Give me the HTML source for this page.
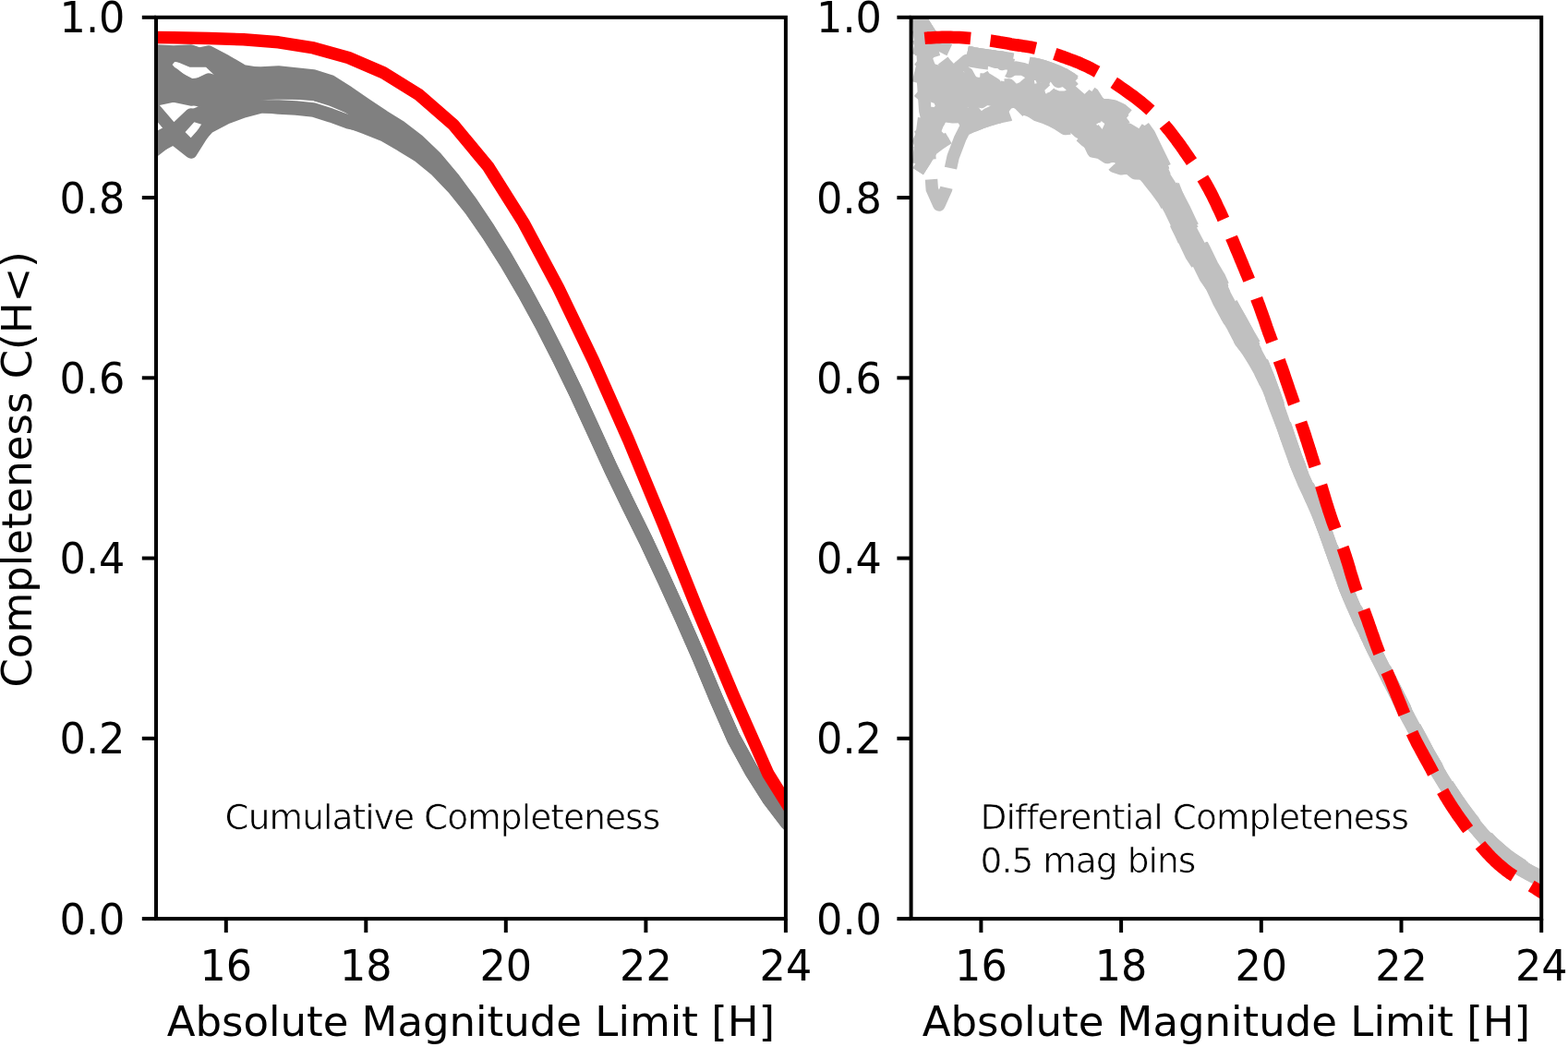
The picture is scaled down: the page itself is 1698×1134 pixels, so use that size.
<!DOCTYPE html>
<html><head><meta charset="utf-8"><title>Completeness</title>
<style>html,body{margin:0;padding:0;background:#fff;overflow:hidden}svg{display:block}</style>
</head><body>
<svg width="1698" height="1134" viewBox="0 0 1698 1134">
<defs>
<clipPath id="cl"><rect x="169.0" y="18.8" width="681.9" height="976.3"/></clipPath>
<clipPath id="cr"><rect x="986.6" y="18.8" width="682.6" height="976.3"/></clipPath>
</defs>
<rect width="1698" height="1134" fill="#fff"/>
<g clip-path="url(#cl)" fill="none" stroke-linejoin="round" stroke-linecap="square" stroke-width="13.5">
<g stroke="#808080">
<polyline points="150.1,54.0 169.0,55.0 187.9,56.0 206.9,55.0 225.8,62.0 244.8,79.0 263.7,79.0 282.6,79.0 301.6,78.0 320.5,80.0 339.5,82.0 358.4,88.0 377.4,100.0 396.3,113.0 415.2,125.7 434.2,137.5 453.1,152.1 472.1,170.4 491.0,192.8 510.0,218.5 528.9,246.8 547.9,277.6 566.8,310.5 585.8,345.6 604.7,382.7 623.7,422.1 642.6,463.4 661.6,505.0 680.5,544.4 699.5,582.9 718.4,623.4 737.4,665.2 756.3,708.2 775.3,753.7 794.2,796.7 813.2,831.3 832.1,860.5 851.1,884.4 870.0,901.7"/>
<polyline points="150.1,64.0 169.0,62.0 187.9,60.0 206.9,60.0 225.8,56.0 244.8,66.0 263.7,77.0 282.6,80.0 301.6,80.0 320.5,82.0 339.5,84.0 358.4,90.0 377.4,102.0 396.3,115.0 415.2,127.3 434.2,139.1 453.1,153.4 472.1,171.5 491.0,193.7 510.0,219.2 528.9,247.5 547.9,278.2 566.8,311.1 585.8,346.1 604.7,383.2 623.7,422.5 642.6,463.8 661.6,505.5 680.5,544.8 699.5,583.3 718.4,623.8 737.4,665.6 756.3,708.6 775.3,754.1 794.2,797.1 813.2,831.7 832.1,860.9 851.1,885.0 870.0,902.4"/>
<polyline points="150.1,52.0 169.0,56.0 187.9,60.0 206.9,62.0 225.8,64.0 244.8,70.0 263.7,80.0 282.6,84.0 301.6,84.0 320.5,85.0 339.5,87.0 358.4,92.0 377.4,104.0 396.3,117.0 415.2,128.9 434.2,140.6 453.1,154.7 472.1,172.6 491.0,194.6 510.0,220.0 528.9,248.2 547.9,278.8 566.8,311.6 585.8,346.6 604.7,383.7 623.7,423.0 642.6,464.3 661.6,505.9 680.5,545.2 699.5,583.7 718.4,624.2 737.4,666.0 756.3,709.0 775.3,754.5 794.2,797.5 813.2,832.1 832.1,861.4 851.1,885.5 870.0,903.0"/>
<polyline points="150.1,102.0 169.0,80.0 187.9,58.0 206.9,66.0 225.8,66.0 244.8,84.0 263.7,86.0 282.6,86.0 301.6,87.0 320.5,88.0 339.5,90.0 358.4,95.0 377.4,106.0 396.3,118.0 415.2,129.7 434.2,141.4 453.1,155.4 472.1,173.2 491.0,195.0 510.0,220.3 528.9,248.5 547.9,279.1 566.8,311.9 585.8,346.8 604.7,384.0 623.7,423.2 642.6,464.5 661.6,506.1 680.5,545.4 699.5,583.9 718.4,624.4 737.4,666.2 756.3,709.2 775.3,754.7 794.2,797.7 813.2,832.3 832.1,861.6 851.1,885.7 870.0,903.3"/>
<polyline points="150.1,38.0 169.0,60.0 187.9,82.0 206.9,92.0 225.8,90.0 244.8,86.0 263.7,90.0 282.6,90.0 301.6,90.0 320.5,91.0 339.5,93.0 358.4,98.0 377.4,108.0 396.3,120.0 415.2,131.3 434.2,142.9 453.1,156.7 472.1,174.2 491.0,195.9 510.0,221.1 528.9,249.1 547.9,279.7 566.8,312.4 585.8,347.4 604.7,384.4 623.7,423.7 642.6,465.0 661.6,506.6 680.5,545.8 699.5,584.3 718.4,624.8 737.4,666.6 756.3,709.5 775.3,755.0 794.2,798.0 813.2,832.6 832.1,862.0 851.1,886.3 870.0,903.9"/>
<polyline points="150.1,84.0 169.0,82.0 187.9,80.0 206.9,95.0 225.8,86.0 244.8,92.0 263.7,92.0 282.6,92.0 301.6,92.0 320.5,93.0 339.5,95.0 358.4,100.0 377.4,110.0 396.3,121.0 415.2,132.1 434.2,143.7 453.1,157.3 472.1,174.8 491.0,196.4 510.0,221.4 528.9,249.5 547.9,280.0 566.8,312.7 585.8,347.6 604.7,384.7 623.7,423.9 642.6,465.2 661.6,506.8 680.5,546.0 699.5,584.5 718.4,625.0 737.4,666.8 756.3,709.7 775.3,755.2 794.2,798.2 813.2,832.8 832.1,862.2 851.1,886.5 870.0,904.2"/>
<polyline points="150.1,86.0 169.0,88.0 187.9,90.0 206.9,96.0 225.8,90.0 244.8,95.0 263.7,96.0 282.6,95.0 301.6,94.0 320.5,95.0 339.5,97.0 358.4,102.0 377.4,111.0 396.3,122.0 415.2,132.9 434.2,144.4 453.1,158.0 472.1,175.3 491.0,196.8 510.0,221.8 528.9,249.8 547.9,280.3 566.8,313.0 585.8,347.9 604.7,384.9 623.7,424.2 642.6,465.4 661.6,507.0 680.5,546.2 699.5,584.7 718.4,625.2 737.4,667.0 756.3,709.9 775.3,755.4 794.2,798.4 813.2,833.0 832.1,862.5 851.1,886.8 870.0,904.5"/>
<polyline points="150.1,80.0 169.0,84.0 187.9,88.0 206.9,96.0 225.8,92.0 244.8,90.0 263.7,94.0 282.6,96.0 301.6,96.0 320.5,97.0 339.5,99.0 358.4,104.0 377.4,112.0 396.3,123.0 415.2,133.7 434.2,145.2 453.1,158.7 472.1,175.9 491.0,197.2 510.0,222.2 528.9,250.1 547.9,280.6 566.8,313.2 585.8,348.1 604.7,385.2 623.7,424.4 642.6,465.6 661.6,507.2 680.5,546.4 699.5,584.9 718.4,625.4 737.4,667.2 756.3,710.1 775.3,755.6 794.2,798.6 813.2,833.2 832.1,862.7 851.1,887.1 870.0,904.8"/>
<polyline points="150.1,107.0 169.0,96.0 187.9,85.0 206.9,92.0 225.8,100.0 244.8,98.0 263.7,97.0 282.6,97.0 301.6,97.0 320.5,98.0 339.5,100.0 358.4,105.0 377.4,113.0 396.3,124.0 415.2,134.5 434.2,145.9 453.1,159.3 472.1,176.4 491.0,197.7 510.0,222.6 528.9,250.5 547.9,280.9 566.8,313.5 585.8,348.4 604.7,385.4 623.7,424.6 642.6,465.9 661.6,507.4 680.5,546.7 699.5,585.1 718.4,625.6 737.4,667.4 756.3,710.3 775.3,755.8 794.2,798.8 813.2,833.4 832.1,862.9 851.1,887.3 870.0,905.1"/>
<polyline points="150.1,96.0 169.0,100.0 187.9,104.0 206.9,98.0 225.8,94.0 244.8,97.0 263.7,99.0 282.6,99.0 301.6,98.0 320.5,99.0 339.5,101.0 358.4,106.0 377.4,114.0 396.3,125.0 415.2,135.3 434.2,146.7 453.1,160.0 472.1,177.0 491.0,198.1 510.0,222.9 528.9,250.8 547.9,281.2 566.8,313.8 585.8,348.6 604.7,385.7 623.7,424.9 642.6,466.1 661.6,507.6 680.5,546.9 699.5,585.3 718.4,625.8 737.4,667.5 756.3,710.5 775.3,756.0 794.2,798.9 813.2,833.6 832.1,863.1 851.1,887.6 870.0,905.4"/>
<polyline points="150.1,84.0 169.0,92.0 187.9,100.0 206.9,106.0 225.8,104.0 244.8,100.0 263.7,100.0 282.6,100.0 301.6,99.0 320.5,100.0 339.5,102.0 358.4,107.0 377.4,115.0 396.3,126.0 415.2,136.1 434.2,147.5 453.1,160.6 472.1,177.5 491.0,198.6 510.0,223.3 528.9,251.1 547.9,281.5 566.8,314.1 585.8,348.9 604.7,385.9 623.7,425.1 642.6,466.3 661.6,507.9 680.5,547.1 699.5,585.5 718.4,626.0 737.4,667.7 756.3,710.7 775.3,756.1 794.2,799.1 813.2,833.8 832.1,863.3 851.1,887.8 870.0,905.7"/>
<polyline points="150.1,112.0 169.0,108.0 187.9,104.0 206.9,108.0 225.8,106.0 244.8,103.0 263.7,102.0 282.6,101.0 301.6,100.0 320.5,101.0 339.5,102.0 358.4,108.0 377.4,116.0 396.3,127.0 415.2,136.9 434.2,148.2 453.1,161.3 472.1,178.0 491.0,199.0 510.0,223.7 528.9,251.5 547.9,281.8 566.8,314.3 585.8,349.1 604.7,386.2 623.7,425.3 642.6,466.5 661.6,508.1 680.5,547.3 699.5,585.7 718.4,626.2 737.4,667.9 756.3,710.8 775.3,756.3 794.2,799.3 813.2,834.0 832.1,863.6 851.1,888.1 870.0,906.0"/>
<polyline points="150.1,177.0 169.0,162.0 187.9,147.0 206.9,126.0 225.8,118.0 244.8,110.0 263.7,104.0 282.6,101.0 301.6,101.0 320.5,101.0 339.5,102.0 358.4,107.0 377.4,116.0 396.3,128.0 415.2,137.7 434.2,149.0 453.1,161.9 472.1,178.6 491.0,199.5 510.0,224.0 528.9,251.8 547.9,282.1 566.8,314.6 585.8,349.4 604.7,386.4 623.7,425.6 642.6,466.8 661.6,508.3 680.5,547.5 699.5,585.9 718.4,626.4 737.4,668.1 756.3,711.0 775.3,756.5 794.2,799.5 813.2,834.2 832.1,863.8 851.1,888.4 870.0,906.4"/>
<polyline points="150.1,110.0 169.0,105.0 187.9,100.0 206.9,106.0 225.8,112.0 244.8,108.0 263.7,106.0 282.6,102.0 301.6,100.0 320.5,100.0 339.5,101.0 358.4,106.0 377.4,115.0 396.3,129.0 415.2,138.5 434.2,149.8 453.1,162.6 472.1,179.1 491.0,199.9 510.0,224.4 528.9,252.1 547.9,282.4 566.8,314.9 585.8,349.7 604.7,386.6 623.7,425.8 642.6,467.0 661.6,508.5 680.5,547.7 699.5,586.1 718.4,626.5 737.4,668.3 756.3,711.2 775.3,756.7 794.2,799.7 813.2,834.4 832.1,864.0 851.1,888.6 870.0,906.7"/>
<polyline points="150.1,160.0 169.0,150.0 187.9,140.0 206.9,159.0 225.8,138.0 244.8,128.0 263.7,121.0 282.6,116.0 301.6,116.0 320.5,117.0 339.5,119.0 358.4,125.0 377.4,132.0 396.3,139.0 415.2,146.5 434.2,157.4 453.1,169.1 472.1,184.6 491.0,204.3 510.0,228.1 528.9,255.4 547.9,285.3 566.8,317.6 585.8,352.2 604.7,389.1 623.7,428.1 642.6,469.2 661.6,510.7 680.5,549.8 699.5,588.1 718.4,628.5 737.4,670.2 756.3,713.1 775.3,758.6 794.2,801.5 813.2,836.3 832.1,866.2 851.1,891.3 870.0,909.7"/>
<polyline points="150.1,98.0 169.0,120.0 187.9,142.0 206.9,124.0 225.8,130.0 244.8,122.0 263.7,118.0 282.6,115.0 301.6,117.0 320.5,118.0 339.5,120.0 358.4,126.0 377.4,133.0 396.3,137.0 415.2,144.9 434.2,155.9 453.1,167.8 472.1,183.5 491.0,203.5 510.0,227.4 528.9,254.8 547.9,284.7 566.8,317.1 585.8,351.7 604.7,388.6 623.7,427.7 642.6,468.8 661.6,510.2 680.5,549.4 699.5,587.7 718.4,628.1 737.4,669.8 756.3,712.7 775.3,758.2 794.2,801.2 813.2,835.9 832.1,865.8 851.1,890.7 870.0,909.1"/>
<polyline points="150.1,170.0 169.0,160.0 187.9,150.0 206.9,165.0 225.8,135.0 244.8,126.0 263.7,119.0 282.6,115.0 301.6,115.0 320.5,116.0 339.5,118.0 358.4,124.0 377.4,131.0 396.3,135.0 415.2,143.3 434.2,154.4 453.1,166.5 472.1,182.4 491.0,202.6 510.0,226.6 528.9,254.1 547.9,284.1 566.8,316.5 585.8,351.2 604.7,388.1 623.7,427.2 642.6,468.3 661.6,509.8 680.5,548.9 699.5,587.3 718.4,627.7 737.4,669.5 756.3,712.3 775.3,757.8 794.2,800.8 813.2,835.5 832.1,865.3 851.1,890.2 870.0,908.5"/>
</g>
<polyline stroke="#f00" points="150.1,40.3 187.9,40.8 225.8,41.5 263.7,42.7 301.6,45.8 339.5,51.9 377.4,62.5 415.2,78.8 453.1,102.2 491.0,135.1 528.9,180.8 566.8,241.0 604.7,311.9 642.5,390.5 680.4,476.0 718.3,567.7 756.2,662.4 794.1,752.9 832.0,838.4 869.8,899.0"/>
</g>
<g clip-path="url(#cr)" fill="none" stroke-linejoin="round" stroke-linecap="butt" stroke-width="13.5" stroke-dasharray="49.95 21.6">
<g stroke="#c0c0c0">
<polyline points="994.2,-20.0 1001.8,100.0 1009.3,205.0 1016.9,222.0 1024.5,205.0 1032.1,170.0 1039.7,150.0 1047.3,135.0 1054.9,133.4 1062.4,128.8 1070.0,123.3 1077.6,119.8 1085.2,108.7 1092.8,102.2 1100.4,98.7 1108.0,97.3 1115.5,86.7 1123.1,84.1 1130.7,81.0 1138.3,77.6 1145.9,88.5 1153.5,86.2 1161.0,94.4 1168.6,101.0 1176.2,107.4 1183.8,111.8 1191.4,114.4 1199.0,124.8 1206.5,126.3 1214.1,126.7 1221.7,132.8 1229.3,135.7 1236.9,142.0 1244.5,156.5 1252.1,166.1 1259.6,184.0 1267.2,199.0 1274.8,215.0 1282.4,230.0 1290.0,249.9 1297.6,262.6 1305.1,278.0 1312.7,290.5 1320.3,304.3 1327.9,320.1 1335.5,334.8 1343.1,349.2 1350.7,362.0 1358.2,375.8 1365.8,390.5 1373.4,409.4 1381.0,431.8 1388.6,452.6 1396.2,474.6 1403.7,496.4 1411.3,515.8 1418.9,531.6 1426.5,549.8 1434.1,569.9 1441.7,591.1 1449.3,613.1 1456.8,632.7 1464.4,651.0 1472.0,667.8 1479.6,684.3 1487.2,699.5 1494.8,714.8 1502.3,729.7 1509.9,744.7 1517.5,760.5 1525.1,774.6 1532.7,789.3 1540.3,803.4 1547.8,817.0 1555.4,830.2 1563.0,843.3 1570.6,855.2 1578.2,866.7 1585.8,877.5 1593.4,887.8 1600.9,896.9 1608.5,905.2 1616.1,912.6 1623.7,919.4 1631.3,926.5 1638.9,932.2 1646.4,937.0 1654.0,941.7 1661.6,945.7 1669.2,949.1 1676.8,951.9 1684.4,953.9 1692.0,956.4"/>
<polyline points="994.2,10.0 1001.8,120.0 1009.3,150.0 1016.9,130.0 1024.5,115.0 1032.1,110.0 1039.7,100.0 1047.3,98.0 1054.9,99.3 1062.4,98.1 1070.0,97.2 1077.6,96.9 1085.2,98.5 1092.8,98.3 1100.4,98.9 1108.0,100.1 1115.5,101.6 1123.1,105.4 1130.7,109.7 1138.3,110.7 1145.9,114.0 1153.5,117.8 1161.0,123.0 1168.6,126.0 1176.2,134.1 1183.8,138.9 1191.4,147.4 1199.0,147.1 1206.5,149.9 1214.1,152.1 1221.7,151.2 1229.3,152.9 1236.9,161.0 1244.5,169.8 1252.1,181.3 1259.6,196.3 1267.2,214.3 1274.8,225.8 1282.4,241.3 1290.0,254.7 1297.6,270.8 1305.1,282.1 1312.7,296.0 1320.3,313.6 1327.9,326.0 1335.5,343.1 1343.1,356.9 1350.7,368.1 1358.2,381.6 1365.8,397.6 1373.4,413.6 1381.0,433.7 1388.6,455.1 1396.2,477.8 1403.7,499.3 1411.3,517.8 1418.9,533.8 1426.5,551.4 1434.1,571.6 1441.7,593.3 1449.3,614.4 1456.8,634.3 1464.4,652.6 1472.0,669.5 1479.6,685.7 1487.2,701.3 1494.8,716.4 1502.3,731.8 1509.9,747.2 1517.5,761.8 1525.1,776.4 1532.7,790.3 1540.3,805.1 1547.8,818.1 1555.4,831.6 1563.0,845.0 1570.6,857.1 1578.2,868.3 1585.8,878.6 1593.4,888.9 1600.9,898.0 1608.5,906.9 1616.1,915.1 1623.7,921.5 1631.3,927.5 1638.9,933.1 1646.4,938.6 1654.0,943.0 1661.6,946.7 1669.2,950.4 1676.8,952.9 1684.4,956.0 1692.0,957.8"/>
<polyline points="994.2,60.0 1001.8,30.0 1009.3,45.0 1016.9,60.0 1024.5,70.0 1032.1,78.0 1039.7,84.0 1047.3,88.0 1054.9,90.4 1062.4,90.6 1070.0,92.6 1077.6,93.9 1085.2,94.5 1092.8,96.1 1100.4,99.3 1108.0,103.7 1115.5,104.0 1123.1,111.7 1130.7,115.2 1138.3,120.0 1145.9,118.5 1153.5,126.0 1161.0,129.4 1168.6,131.6 1176.2,146.3 1183.8,151.9 1191.4,155.4 1199.0,158.8 1206.5,159.4 1214.1,164.3 1221.7,166.8 1229.3,169.5 1236.9,174.2 1244.5,179.6 1252.1,192.0 1259.6,204.4 1267.2,220.9 1274.8,237.0 1282.4,248.7 1290.0,261.9 1297.6,276.3 1305.1,288.7 1312.7,302.0 1320.3,317.3 1327.9,331.1 1335.5,347.6 1343.1,359.9 1350.7,372.5 1358.2,384.9 1365.8,398.9 1373.4,416.1 1381.0,436.6 1388.6,457.8 1396.2,479.9 1403.7,500.6 1411.3,518.6 1418.9,535.8 1426.5,552.7 1434.1,573.0 1441.7,594.4 1449.3,615.1 1456.8,635.5 1464.4,653.8 1472.0,670.8 1479.6,686.8 1487.2,702.4 1494.8,717.4 1502.3,732.8 1509.9,747.8 1517.5,762.9 1525.1,777.3 1532.7,792.2 1540.3,806.3 1547.8,819.9 1555.4,833.1 1563.0,846.1 1570.6,857.6 1578.2,869.7 1585.8,880.4 1593.4,890.4 1600.9,899.6 1608.5,907.7 1616.1,915.6 1623.7,922.9 1631.3,929.2 1638.9,934.8 1646.4,939.4 1654.0,944.5 1661.6,948.6 1669.2,951.9 1676.8,954.6 1684.4,956.4 1692.0,959.1"/>
<polyline points="994.2,150.0 1001.8,170.0 1009.3,130.0 1016.9,120.0 1024.5,125.0 1032.1,118.0 1039.7,112.0 1047.3,110.0 1054.9,108.4 1062.4,120.1 1070.0,128.8 1077.6,125.4 1085.2,119.5 1092.8,109.4 1100.4,103.8 1108.0,104.8 1115.5,104.6 1123.1,105.1 1130.7,108.1 1138.3,108.4 1145.9,111.2 1153.5,121.3 1161.0,127.4 1168.6,136.5 1176.2,145.1 1183.8,150.8 1191.4,159.6 1199.0,156.6 1206.5,156.3 1214.1,161.7 1221.7,170.3 1229.3,170.8 1236.9,171.2 1244.5,181.0 1252.1,194.1 1259.6,202.5 1267.2,217.4 1274.8,236.0 1282.4,250.7 1290.0,265.9 1297.6,277.2 1305.1,293.6 1312.7,306.6 1320.3,319.4 1327.9,334.5 1335.5,345.7 1343.1,361.9 1350.7,373.2 1358.2,386.4 1365.8,400.9 1373.4,417.3 1381.0,436.3 1388.6,458.9 1396.2,480.0 1403.7,500.9 1411.3,519.3 1418.9,536.0 1426.5,552.7 1434.1,573.9 1441.7,594.9 1449.3,616.4 1456.8,636.4 1464.4,654.1 1472.0,670.6 1479.6,687.0 1487.2,702.4 1494.8,717.9 1502.3,733.2 1509.9,747.7 1517.5,763.3 1525.1,777.5 1532.7,792.5 1540.3,806.5 1547.8,820.2 1555.4,833.5 1563.0,846.1 1570.6,858.2 1578.2,869.4 1585.8,880.6 1593.4,891.2 1600.9,900.4 1608.5,908.6 1616.1,916.2 1623.7,922.8 1631.3,929.8 1638.9,935.1 1646.4,940.1 1654.0,944.6 1661.6,948.6 1669.2,951.8 1676.8,954.8 1684.4,956.9 1692.0,959.0"/>
<polyline points="994.2,90.0 1001.8,60.0 1009.3,80.0 1016.9,95.0 1024.5,90.0 1032.1,100.0 1039.7,95.0 1047.3,92.0 1054.9,94.4 1062.4,95.0 1070.0,97.2 1077.6,97.5 1085.2,98.3 1092.8,100.5 1100.4,103.3 1108.0,107.1 1115.5,109.5 1123.1,113.1 1130.7,119.7 1138.3,122.7 1145.9,126.3 1153.5,132.2 1161.0,136.2 1168.6,143.2 1176.2,147.0 1183.8,157.0 1191.4,165.4 1199.0,167.6 1206.5,169.4 1214.1,170.2 1221.7,174.1 1229.3,171.8 1236.9,178.8 1244.5,187.7 1252.1,198.0 1259.6,207.4 1267.2,222.4 1274.8,236.4 1282.4,252.2 1290.0,266.3 1297.6,277.8 1305.1,292.3 1312.7,306.9 1320.3,318.8 1327.9,334.7 1335.5,350.2 1343.1,361.1 1350.7,374.7 1358.2,386.0 1365.8,402.2 1373.4,420.0 1381.0,439.3 1388.6,459.2 1396.2,481.2 1403.7,501.6 1411.3,520.1 1418.9,537.1 1426.5,553.5 1434.1,574.2 1441.7,595.2 1449.3,616.8 1456.8,636.2 1464.4,654.2 1472.0,671.5 1479.6,687.8 1487.2,703.1 1494.8,718.5 1502.3,733.3 1509.9,747.9 1517.5,763.8 1525.1,778.5 1532.7,792.8 1540.3,806.9 1547.8,820.9 1555.4,833.7 1563.0,846.4 1570.6,858.7 1578.2,870.6 1585.8,880.6 1593.4,891.3 1600.9,899.9 1608.5,908.2 1616.1,916.7 1623.7,923.3 1631.3,929.3 1638.9,935.3 1646.4,940.8 1654.0,945.3 1661.6,948.8 1669.2,952.4 1676.8,955.4 1684.4,957.3 1692.0,959.5"/>
<polyline points="994.2,64.6 1001.8,70.4 1009.4,75.4 1016.9,77.6 1024.5,79.0 1032.1,81.5 1039.7,82.5 1047.3,84.2 1054.9,85.6 1062.4,86.0 1070.0,86.4 1077.6,91.2 1085.2,105.3 1092.8,101.1 1100.4,107.5 1108.0,105.4 1115.5,113.3 1123.1,120.9 1130.7,116.4 1138.3,117.0 1145.9,121.6 1153.5,129.5 1161.0,139.8 1168.6,146.1 1176.2,152.9 1183.8,158.5 1191.4,163.7 1199.0,170.0 1206.5,167.7 1214.1,177.5 1221.7,174.0 1229.3,180.9 1236.9,187.9 1244.5,192.5 1252.1,197.9 1259.6,212.9 1267.2,227.0 1274.8,238.7 1282.4,253.9 1290.0,269.7 1297.6,280.2 1305.1,297.2 1312.7,305.3 1320.3,321.3 1327.9,337.3 1335.5,351.7 1343.1,364.9 1350.7,377.0 1358.2,388.8 1365.8,403.9 1373.4,418.3 1381.0,439.4 1388.6,460.0 1396.2,482.0 1403.7,502.6 1411.3,520.5 1418.9,537.1 1426.5,554.9 1434.1,574.6 1441.7,595.6 1449.3,617.6 1456.8,637.5 1464.4,654.6 1472.0,672.2 1479.6,689.0 1487.2,704.0 1494.8,719.0 1502.3,734.1 1509.9,749.0 1517.5,764.1 1525.1,778.7 1532.7,793.6 1540.3,807.4 1547.8,821.1 1555.4,834.1 1563.0,847.2 1570.6,859.1 1578.2,870.8 1585.8,881.9 1593.4,891.7 1600.9,900.9 1608.5,909.3 1616.1,916.9 1623.7,923.9 1631.3,930.2 1638.9,936.2 1646.4,940.8 1654.0,946.0 1661.6,949.5 1669.2,952.7 1676.8,955.6 1684.4,957.9 1692.0,960.1"/>
<polyline points="994.2,164.4 1001.8,155.5 1009.4,146.7 1016.9,129.6 1024.5,117.4 1032.1,91.6 1039.7,91.2 1047.3,101.4 1054.9,106.2 1062.4,94.0 1070.0,87.9 1077.6,100.2 1085.2,101.1 1092.8,99.0 1100.4,105.4 1108.0,110.0 1115.5,109.6 1123.1,111.7 1130.7,112.2 1138.3,114.0 1145.9,119.9 1153.5,123.1 1161.0,127.5 1168.6,134.4 1176.2,141.0 1183.8,146.0 1191.4,146.2 1199.0,153.8 1206.5,156.9 1214.1,157.6 1221.7,162.0 1229.3,167.0 1236.9,168.3 1244.5,174.8 1252.1,191.6 1259.6,199.7 1267.2,212.8 1274.8,230.5 1282.4,246.0 1290.0,258.6 1297.6,274.5 1305.1,286.0 1312.7,299.0 1320.3,314.9 1327.9,330.7 1335.5,343.6 1343.1,358.0 1350.7,370.0 1358.2,385.7 1365.8,397.1 1373.4,416.3 1381.0,435.4 1388.6,456.9 1396.2,479.1 1403.7,500.0 1411.3,518.8 1418.9,535.1 1426.5,552.2 1434.1,572.3 1441.7,594.0 1449.3,615.3 1456.8,635.3 1464.4,653.3 1472.0,670.5 1479.6,686.8 1487.2,701.9 1494.8,716.6 1502.3,731.9 1509.9,746.9 1517.5,762.7 1525.1,776.7 1532.7,791.8 1540.3,805.8 1547.8,819.9 1555.4,832.9 1563.0,845.3 1570.6,857.4 1578.2,869.0 1585.8,879.8 1593.4,889.5 1600.9,898.9 1608.5,907.8 1616.1,914.5 1623.7,922.1 1631.3,928.1 1638.9,934.2 1646.4,939.5 1654.0,943.7 1661.6,947.9 1669.2,950.5 1676.8,954.2 1684.4,956.1 1692.0,958.3"/>
<polyline points="994.2,177.3 1001.8,118.6 1009.4,104.0 1016.9,106.7 1024.5,125.8 1032.1,126.8 1039.7,126.5 1047.3,110.3 1054.9,121.1 1062.4,130.2 1070.0,128.0 1077.6,124.2 1085.2,114.1 1092.8,117.3 1100.4,118.5 1108.0,117.6 1115.5,120.0 1123.1,122.1 1130.7,122.4 1138.3,123.8 1145.9,129.0 1153.5,132.2 1161.0,139.1 1168.6,144.7 1176.2,151.6 1183.8,159.1 1191.4,162.9 1199.0,167.9 1206.5,167.9 1214.1,172.3 1221.7,171.8 1229.3,177.2 1236.9,179.7 1244.5,187.0 1252.1,196.6 1259.6,204.7 1267.2,220.8 1274.8,236.5 1282.4,255.2 1290.0,270.9 1297.6,282.2 1305.1,293.3 1312.7,309.0 1320.3,319.4 1327.9,338.2 1335.5,349.9 1343.1,360.4 1350.7,378.3 1358.2,389.5 1365.8,401.3 1373.4,419.2 1381.0,438.6 1388.6,459.9 1396.2,480.6 1403.7,501.7 1411.3,520.6 1418.9,537.0 1426.5,554.7 1434.1,574.2 1441.7,596.2 1449.3,616.5 1456.8,636.5 1464.4,654.2 1472.0,671.4 1479.6,688.3 1487.2,703.2 1494.8,718.8 1502.3,733.8 1509.9,748.6 1517.5,763.7 1525.1,778.4 1532.7,792.9 1540.3,807.4 1547.8,821.1 1555.4,834.0 1563.0,846.6 1570.6,859.1 1578.2,870.5 1585.8,881.6 1593.4,892.0 1600.9,900.7 1608.5,908.9 1616.1,916.6 1623.7,923.4 1631.3,929.7 1638.9,935.4 1646.4,940.7 1654.0,945.2 1661.6,949.4 1669.2,952.5 1676.8,955.4 1684.4,957.5 1692.0,960.2"/>
<polyline points="994.2,14.7 1001.8,27.8 1009.4,39.8 1016.9,45.3 1024.5,49.3 1032.1,52.3 1039.7,54.6 1047.3,56.4 1054.9,57.9 1062.4,59.1 1070.0,60.2 1077.6,61.1 1085.2,69.4 1092.8,67.5 1100.4,69.7 1108.0,66.9 1115.5,68.5 1123.1,69.9 1130.7,71.8 1138.3,74.6 1145.9,78.9 1153.5,81.1 1161.0,85.8 1168.6,95.1 1176.2,103.1 1183.8,107.6 1191.4,112.3 1199.0,120.7 1206.5,122.7 1214.1,123.6 1221.7,129.6 1229.3,137.3 1236.9,142.4 1244.5,156.5 1252.1,167.0 1259.6,180.2 1267.2,197.7 1274.8,211.5 1282.4,229.4 1290.0,246.0 1297.6,258.6 1305.1,273.5 1312.7,289.2 1320.3,301.8 1327.9,318.1 1335.5,331.7 1343.1,345.9 1350.7,359.6 1358.2,376.2 1365.8,389.5 1373.4,408.0 1381.0,429.1 1388.6,451.7 1396.2,474.4 1403.7,495.4 1411.3,515.2 1418.9,531.5 1426.5,549.7 1434.1,569.5 1441.7,591.2 1449.3,611.8 1456.8,632.0 1464.4,650.3 1472.0,667.3 1479.6,682.9 1487.2,699.3 1494.8,714.1 1502.3,729.3 1509.9,744.4 1517.5,759.3 1525.1,774.3 1532.7,788.2 1540.3,802.5 1547.8,816.6 1555.4,829.8 1563.0,842.4 1570.6,854.5 1578.2,865.9 1585.8,876.8 1593.4,887.2 1600.9,895.7 1608.5,904.9 1616.1,912.4 1623.7,919.1 1631.3,925.8 1638.9,930.8 1646.4,935.8 1654.0,940.5 1661.6,944.7 1669.2,948.1 1676.8,950.9 1684.4,953.4 1692.0,954.7"/>
<polyline points="994.2,148.0 1001.8,141.6 1009.4,135.0 1016.9,131.7 1024.5,115.3 1032.1,96.6 1039.7,84.6 1047.3,85.2 1054.9,89.5 1062.4,93.5 1070.0,84.6 1077.6,78.9 1085.2,73.5 1092.8,77.7 1100.4,73.0 1108.0,74.6 1115.5,77.1 1123.1,77.4 1130.7,79.9 1138.3,86.7 1145.9,90.8 1153.5,97.3 1161.0,107.5 1168.6,113.8 1176.2,125.9 1183.8,131.3 1191.4,143.1 1199.0,143.4 1206.5,149.1 1214.1,145.9 1221.7,151.5 1229.3,152.3 1236.9,156.5 1244.5,170.6 1252.1,179.2 1259.6,192.6 1267.2,210.2 1274.8,222.7 1282.4,236.5 1290.0,254.2 1297.6,265.7 1305.1,282.5 1312.7,296.2 1320.3,308.5 1327.9,323.7 1335.5,339.5 1343.1,352.8 1350.7,364.6 1358.2,379.6 1365.8,392.5 1373.4,411.9 1381.0,432.5 1388.6,454.5 1396.2,476.8 1403.7,497.1 1411.3,516.8 1418.9,533.3 1426.5,550.8 1434.1,570.7 1441.7,592.2 1449.3,614.0 1456.8,633.3 1464.4,651.9 1472.0,669.3 1479.6,685.4 1487.2,701.1 1494.8,715.7 1502.3,730.6 1509.9,746.4 1517.5,761.1 1525.1,776.1 1532.7,790.2 1540.3,804.7 1547.8,818.3 1555.4,831.6 1563.0,844.2 1570.6,856.3 1578.2,867.8 1585.8,878.5 1593.4,888.7 1600.9,897.4 1608.5,906.6 1616.1,913.7 1623.7,921.1 1631.3,927.1 1638.9,932.8 1646.4,938.6 1654.0,942.3 1661.6,946.0 1669.2,949.5 1676.8,952.5 1684.4,955.6 1692.0,957.0"/>
<polyline points="994.2,14.7 1001.8,27.8 1009.4,39.8 1016.9,45.3 1024.5,49.3 1032.1,52.3 1039.7,54.6 1047.3,56.4 1054.9,57.9 1062.4,59.1 1070.0,60.2 1077.6,61.1 1085.2,62.1 1092.8,63.4 1100.4,64.9 1108.0,66.6 1115.5,68.2 1123.1,69.9 1130.7,71.8 1138.3,74.4 1145.9,77.3 1153.5,81.1 1161.0,85.8 1168.6,91.0 1176.2,96.5 1183.8,101.8 1191.4,113.8 1199.0,113.7 1206.5,114.9 1214.1,118.3 1221.7,124.6 1229.3,127.4 1236.9,134.7 1244.5,145.5 1252.1,161.2 1259.6,176.5 1267.2,192.1 1274.8,211.4 1282.4,225.8 1290.0,242.1 1297.6,256.9 1305.1,271.3 1312.7,287.2 1320.3,299.9 1327.9,316.5 1335.5,332.5 1343.1,345.2 1350.7,359.3 1358.2,372.2 1365.8,390.1 1373.4,408.4 1381.0,429.0 1388.6,450.7 1396.2,473.1 1403.7,495.3 1411.3,514.6 1418.9,531.1 1426.5,549.2 1434.1,568.9 1441.7,590.6 1449.3,612.0 1456.8,631.9 1464.4,649.7 1472.0,667.3 1479.6,683.6 1487.2,698.4 1494.8,713.6 1502.3,729.2 1509.9,744.0 1517.5,758.8 1525.1,774.1 1532.7,788.4 1540.3,802.3 1547.8,816.8 1555.4,829.5 1563.0,842.0 1570.6,854.4 1578.2,865.5 1585.8,876.3 1593.4,886.6 1600.9,895.5 1608.5,904.0 1616.1,912.4 1623.7,919.2 1631.3,925.5 1638.9,931.1 1646.4,936.2 1654.0,941.0 1661.6,944.5 1669.2,948.4 1676.8,950.4 1684.4,953.0 1692.0,954.7"/>
<polyline points="994.2,41.9 1001.8,60.6 1009.4,89.8 1016.9,81.3 1024.5,82.5 1032.1,79.3 1039.7,71.6 1047.3,65.3 1054.9,66.5 1062.4,67.8 1070.0,68.7 1077.6,69.2 1085.2,71.2 1092.8,72.4 1100.4,74.9 1108.0,75.1 1115.5,79.4 1123.1,80.6 1130.7,82.6 1138.3,85.1 1145.9,88.7 1153.5,92.7 1161.0,98.9 1168.6,105.8 1176.2,112.0 1183.8,116.3 1191.4,124.3 1199.0,131.7 1206.5,136.2 1214.1,144.5 1221.7,142.9 1229.3,149.3 1236.9,151.7 1244.5,160.2 1252.1,172.7 1259.6,192.1 1267.2,205.7 1274.8,223.2 1282.4,238.1 1290.0,254.8 1297.6,270.9 1305.1,281.4 1312.7,295.6 1320.3,309.6 1327.9,326.9 1335.5,339.3 1343.1,352.7 1350.7,365.3 1358.2,378.7 1365.8,395.5 1373.4,414.8 1381.0,432.8 1388.6,455.8 1396.2,477.3 1403.7,497.7 1411.3,516.9 1418.9,533.7 1426.5,551.1 1434.1,572.1 1441.7,592.3 1449.3,614.3 1456.8,634.0 1464.4,652.0 1472.0,669.3 1479.6,685.6 1487.2,701.0 1494.8,716.3 1502.3,731.5 1509.9,745.8 1517.5,761.8 1525.1,776.7 1532.7,790.8 1540.3,805.0 1547.8,818.0 1555.4,831.6 1563.0,844.2 1570.6,856.4 1578.2,868.3 1585.8,878.5 1593.4,888.7 1600.9,897.3 1608.5,906.3 1616.1,914.1 1623.7,920.9 1631.3,927.2 1638.9,933.7 1646.4,937.9 1654.0,942.4 1661.6,946.4 1669.2,950.4 1676.8,953.6 1684.4,955.4 1692.0,957.0"/>
<polyline points="994.2,32.0 1001.8,62.3 1009.4,54.5 1016.9,79.1 1024.5,98.7 1032.1,98.3 1039.7,103.5 1047.3,108.6 1054.9,110.8 1062.4,108.1 1070.0,105.4 1077.6,102.8 1085.2,100.8 1092.8,100.2 1100.4,98.2 1108.0,94.8 1115.5,88.2 1123.1,87.0 1130.7,93.4 1138.3,102.2 1145.9,105.2 1153.5,105.3 1161.0,113.4 1168.6,119.1 1176.2,126.5 1183.8,131.4 1191.4,134.1 1199.0,137.6 1206.5,140.4 1214.1,141.7 1221.7,139.9 1229.3,144.5 1236.9,150.1 1244.5,165.1 1252.1,176.0 1259.6,189.2 1267.2,201.0 1274.8,218.8 1282.4,233.8 1290.0,249.7 1297.6,264.1 1305.1,278.8 1312.7,291.4 1320.3,307.6 1327.9,322.1 1335.5,336.4 1343.1,350.3 1350.7,363.0 1358.2,377.9 1365.8,392.3 1373.4,410.9 1381.0,431.2 1388.6,452.7 1396.2,476.1 1403.7,496.3 1411.3,516.0 1418.9,532.8 1426.5,549.7 1434.1,570.1 1441.7,591.8 1449.3,613.0 1456.8,632.6 1464.4,651.5 1472.0,668.2 1479.6,684.6 1487.2,699.8 1494.8,715.3 1502.3,730.1 1509.9,745.4 1517.5,760.5 1525.1,775.1 1532.7,789.4 1540.3,803.4 1547.8,817.5 1555.4,830.8 1563.0,843.4 1570.6,855.4 1578.2,867.2 1585.8,878.6 1593.4,887.7 1600.9,897.1 1608.5,905.5 1616.1,912.4 1623.7,920.2 1631.3,926.3 1638.9,932.6 1646.4,937.2 1654.0,941.6 1661.6,945.7 1669.2,949.2 1676.8,951.8 1684.4,954.3 1692.0,955.9"/>
<polyline points="994.2,72.8 1001.8,77.3 1009.4,83.8 1016.9,95.2 1024.5,98.7 1032.1,113.0 1039.7,122.9 1047.3,136.3 1054.9,135.9 1062.4,132.9 1070.0,130.3 1077.6,128.0 1085.2,126.2 1092.8,124.6 1100.4,123.5 1108.0,116.1 1115.5,112.3 1123.1,106.2 1130.7,108.2 1138.3,113.9 1145.9,112.1 1153.5,118.6 1161.0,126.2 1168.6,135.8 1176.2,147.8 1183.8,164.1 1191.4,165.3 1199.0,172.3 1206.5,180.3 1214.1,182.7 1221.7,181.6 1229.3,187.8 1236.9,188.1 1244.5,194.2 1252.1,203.7 1259.6,213.7 1267.2,227.6 1274.8,243.2 1282.4,261.7 1290.0,275.6 1297.6,285.1 1305.1,300.3 1312.7,311.2 1320.3,325.9 1327.9,341.3 1335.5,354.8 1343.1,369.5 1350.7,379.1 1358.2,389.8 1365.8,405.8 1373.4,421.1 1381.0,440.5 1388.6,459.9 1396.2,483.4 1403.7,503.8 1411.3,522.1 1418.9,538.5 1426.5,556.0 1434.1,575.2 1441.7,596.7 1449.3,617.4 1456.8,637.3 1464.4,656.0 1472.0,672.8 1479.6,688.5 1487.2,704.5 1494.8,719.6 1502.3,734.5 1509.9,750.0 1517.5,764.7 1525.1,779.1 1532.7,793.7 1540.3,808.7 1547.8,821.4 1555.4,835.2 1563.0,848.1 1570.6,860.2 1578.2,871.1 1585.8,882.1 1593.4,892.2 1600.9,901.6 1608.5,909.6 1616.1,917.2 1623.7,924.9 1631.3,931.3 1638.9,936.8 1646.4,941.6 1654.0,946.4 1661.6,950.2 1669.2,953.8 1676.8,956.0 1684.4,958.8 1692.0,960.6"/>
<polyline points="994.2,19.6 1001.8,32.0 1009.4,43.3 1016.9,48.4 1024.5,52.3 1032.1,55.8 1039.7,58.2 1047.3,60.2 1054.9,62.5 1062.4,64.3 1070.0,64.6 1077.6,67.2 1085.2,67.2 1092.8,69.3 1100.4,71.2 1108.0,73.2 1115.5,73.1 1123.1,78.2 1130.7,79.7 1138.3,81.6 1145.9,84.4 1153.5,87.8 1161.0,93.4 1168.6,102.1 1176.2,107.0 1183.8,111.7 1191.4,120.3 1199.0,127.8 1206.5,128.0 1214.1,131.0 1221.7,141.3 1229.3,145.0 1236.9,151.0 1244.5,159.3 1252.1,169.6 1259.6,186.5 1267.2,203.6 1274.8,220.0 1282.4,236.7 1290.0,252.2 1297.6,266.2 1305.1,279.8 1312.7,291.9 1320.3,305.1 1327.9,322.5 1335.5,336.9 1343.1,350.9 1350.7,364.3 1358.2,376.9 1365.8,392.4 1373.4,411.4 1381.0,432.2 1388.6,453.7 1396.2,476.4 1403.7,497.1 1411.3,515.7 1418.9,533.0 1426.5,551.3 1434.1,570.6 1441.7,592.6 1449.3,613.9 1456.8,633.8 1464.4,651.3 1472.0,669.2 1479.6,684.8 1487.2,700.2 1494.8,715.4 1502.3,730.8 1509.9,745.8 1517.5,760.6 1525.1,775.8 1532.7,789.7 1540.3,803.7 1547.8,818.0 1555.4,831.2 1563.0,844.1 1570.6,855.6 1578.2,867.7 1585.8,878.3 1593.4,888.6 1600.9,896.9 1608.5,905.8 1616.1,913.4 1623.7,920.0 1631.3,926.6 1638.9,932.9 1646.4,937.5 1654.0,941.9 1661.6,946.3 1669.2,949.7 1676.8,952.6 1684.4,954.4 1692.0,956.6"/>
<polyline points="994.2,185.6 1001.8,173.7 1009.4,161.9 1016.9,156.1 1024.5,151.1 1032.1,146.7 1039.7,142.8 1047.3,139.3 1054.9,135.9 1062.4,132.9 1070.0,130.3 1077.6,128.0 1085.2,126.2 1092.8,124.6 1100.4,121.8 1108.0,123.0 1115.5,119.8 1123.1,124.9 1130.7,127.3 1138.3,130.5 1145.9,134.5 1153.5,139.5 1161.0,139.0 1168.6,145.8 1176.2,148.2 1183.8,161.8 1191.4,165.5 1199.0,170.5 1206.5,168.0 1214.1,169.3 1221.7,171.1 1229.3,178.9 1236.9,186.2 1244.5,196.3 1252.1,205.7 1259.6,216.0 1267.2,229.4 1274.8,245.7 1282.4,260.6 1290.0,276.5 1297.6,288.3 1305.1,298.4 1312.7,311.7 1320.3,328.1 1327.9,341.9 1335.5,355.5 1343.1,369.5 1350.7,379.6 1358.2,391.7 1365.8,405.2 1373.4,420.7 1381.0,441.9 1388.6,461.5 1396.2,483.2 1403.7,503.6 1411.3,522.5 1418.9,538.5 1426.5,555.7 1434.1,575.0 1441.7,596.8 1449.3,617.5 1456.8,637.8 1464.4,656.1 1472.0,673.0 1479.6,689.5 1487.2,704.9 1494.8,720.1 1502.3,735.1 1509.9,750.1 1517.5,765.4 1525.1,780.1 1532.7,793.9 1540.3,808.7 1547.8,822.3 1555.4,835.7 1563.0,848.3 1570.6,860.0 1578.2,871.4 1585.8,882.8 1593.4,892.6 1600.9,901.3 1608.5,910.3 1616.1,917.8 1623.7,924.3 1631.3,930.6 1638.9,936.5 1646.4,942.1 1654.0,946.5 1661.6,950.4 1669.2,953.9 1676.8,956.9 1684.4,958.5 1692.0,960.9"/>
<polyline points="994.2,185.6 1001.8,173.7 1009.4,158.4 1016.9,151.1 1024.5,143.1 1032.1,122.2 1039.7,115.0 1047.3,132.1 1054.9,120.6 1062.4,105.1 1070.0,107.4 1077.6,108.9 1085.2,113.2 1092.8,104.5 1100.4,110.7 1108.0,104.4 1115.5,102.5 1123.1,101.5 1130.7,104.9 1138.3,110.9 1145.9,116.2 1153.5,123.8 1161.0,132.9 1168.6,140.0 1176.2,151.3 1183.8,154.2 1191.4,154.0 1199.0,159.4 1206.5,159.4 1214.1,167.9 1221.7,169.8 1229.3,172.7 1236.9,177.6 1244.5,187.6 1252.1,198.0 1259.6,210.2 1267.2,224.8 1274.8,245.3 1282.4,257.6 1290.0,270.6 1297.6,282.1 1305.1,295.7 1312.7,310.8 1320.3,325.0 1327.9,338.7 1335.5,353.3 1343.1,365.6 1350.7,376.6 1358.2,391.2 1365.8,404.2 1373.4,422.4 1381.0,439.5 1388.6,460.9 1396.2,482.8 1403.7,502.8 1411.3,520.8 1418.9,537.4 1426.5,555.0 1434.1,575.0 1441.7,596.1 1449.3,617.6 1456.8,637.4 1464.4,655.5 1472.0,672.4 1479.6,688.5 1487.2,704.2 1494.8,719.6 1502.3,734.5 1509.9,749.7 1517.5,764.4 1525.1,778.8 1532.7,793.4 1540.3,808.0 1547.8,821.7 1555.4,835.3 1563.0,847.6 1570.6,860.0 1578.2,871.6 1585.8,882.2 1593.4,891.7 1600.9,901.0 1608.5,909.6 1616.1,916.9 1623.7,924.4 1631.3,930.9 1638.9,936.2 1646.4,942.0 1654.0,945.8 1661.6,949.8 1669.2,953.2 1676.8,955.9 1684.4,958.6 1692.0,960.4"/>
<polyline points="994.2,14.7 1001.8,27.8 1009.4,39.8 1016.9,45.3 1024.5,49.3 1032.1,52.3 1039.7,54.6 1047.3,56.4 1054.9,57.9 1062.4,59.1 1070.0,60.2 1077.6,61.5 1085.2,62.1 1092.8,64.4 1100.4,65.0 1108.0,66.6 1115.5,68.4 1123.1,70.7 1130.7,72.5 1138.3,77.6 1145.9,81.2 1153.5,84.1 1161.0,87.4 1168.6,94.3 1176.2,99.3 1183.8,108.8 1191.4,112.3 1199.0,124.8 1206.5,123.9 1214.1,126.1 1221.7,133.2 1229.3,137.5 1236.9,147.6 1244.5,156.2 1252.1,168.5 1259.6,183.8 1267.2,202.5 1274.8,213.8 1282.4,229.4 1290.0,245.9 1297.6,260.3 1305.1,274.6 1312.7,289.8 1320.3,306.1 1327.9,317.0 1335.5,334.2 1343.1,348.1 1350.7,361.2 1358.2,374.9 1365.8,390.4 1373.4,409.9 1381.0,429.8 1388.6,452.3 1396.2,474.6 1403.7,495.8 1411.3,514.7 1418.9,532.2 1426.5,549.5 1434.1,569.8 1441.7,591.3 1449.3,612.3 1456.8,632.1 1464.4,650.3 1472.0,667.7 1479.6,683.6 1487.2,699.0 1494.8,714.6 1502.3,729.9 1509.9,744.3 1517.5,760.2 1525.1,774.5 1532.7,788.9 1540.3,803.4 1547.8,816.8 1555.4,829.9 1563.0,843.5 1570.6,854.6 1578.2,866.4 1585.8,877.4 1593.4,886.8 1600.9,896.3 1608.5,904.9 1616.1,913.2 1623.7,919.3 1631.3,925.9 1638.9,931.8 1646.4,936.7 1654.0,940.8 1661.6,945.2 1669.2,948.5 1676.8,951.5 1684.4,954.1 1692.0,955.9"/>
<polyline points="994.2,98.8 1001.8,105.3 1009.4,87.6 1016.9,86.8 1024.5,90.3 1032.1,85.9 1039.7,87.6 1047.3,79.5 1054.9,93.5 1062.4,110.5 1070.0,105.5 1077.6,107.2 1085.2,104.0 1092.8,110.9 1100.4,109.5 1108.0,108.0 1115.5,107.8 1123.1,109.9 1130.7,109.1 1138.3,113.0 1145.9,112.3 1153.5,117.7 1161.0,125.5 1168.6,131.9 1176.2,138.2 1183.8,140.6 1191.4,150.3 1199.0,151.4 1206.5,156.0 1214.1,157.9 1221.7,157.1 1229.3,160.6 1236.9,162.5 1244.5,172.9 1252.1,181.7 1259.6,199.3 1267.2,212.6 1274.8,229.2 1282.4,243.6 1290.0,257.0 1297.6,272.4 1305.1,284.7 1312.7,299.6 1320.3,313.7 1327.9,327.2 1335.5,343.1 1343.1,356.4 1350.7,368.6 1358.2,382.9 1365.8,398.3 1373.4,414.2 1381.0,434.5 1388.6,455.2 1396.2,478.2 1403.7,498.9 1411.3,517.0 1418.9,534.7 1426.5,552.3 1434.1,571.9 1441.7,593.4 1449.3,614.5 1456.8,634.8 1464.4,652.4 1472.0,669.8 1479.6,686.6 1487.2,701.6 1494.8,716.9 1502.3,731.9 1509.9,746.6 1517.5,761.9 1525.1,776.8 1532.7,790.8 1540.3,805.4 1547.8,819.4 1555.4,832.6 1563.0,844.6 1570.6,856.9 1578.2,868.2 1585.8,879.7 1593.4,889.5 1600.9,898.8 1608.5,906.7 1616.1,914.4 1623.7,921.8 1631.3,928.1 1638.9,933.5 1646.4,938.9 1654.0,943.6 1661.6,947.4 1669.2,950.4 1676.8,952.9 1684.4,955.9 1692.0,957.9"/>
<polyline points="994.2,154.7 1001.8,139.3 1009.4,122.4 1016.9,130.3 1024.5,126.7 1032.1,125.2 1039.7,111.7 1047.3,103.9 1054.9,104.0 1062.4,94.0 1070.0,84.5 1077.6,83.3 1085.2,92.1 1092.8,92.0 1100.4,100.1 1108.0,101.5 1115.5,99.0 1123.1,97.1 1130.7,95.2 1138.3,103.2 1145.9,110.4 1153.5,118.7 1161.0,122.3 1168.6,132.7 1176.2,135.8 1183.8,145.8 1191.4,150.3 1199.0,153.7 1206.5,161.7 1214.1,164.4 1221.7,167.8 1229.3,169.5 1236.9,170.9 1244.5,178.3 1252.1,186.4 1259.6,200.1 1267.2,215.1 1274.8,231.2 1282.4,242.5 1290.0,261.7 1297.6,274.9 1305.1,291.6 1312.7,302.6 1320.3,315.4 1327.9,331.7 1335.5,344.1 1343.1,358.1 1350.7,369.2 1358.2,385.4 1365.8,399.1 1373.4,415.2 1381.0,436.0 1388.6,458.1 1396.2,479.5 1403.7,500.3 1411.3,518.4 1418.9,535.1 1426.5,552.9 1434.1,573.1 1441.7,593.9 1449.3,615.1 1456.8,635.5 1464.4,653.2 1472.0,670.8 1479.6,686.7 1487.2,702.4 1494.8,717.9 1502.3,732.8 1509.9,747.9 1517.5,762.3 1525.1,777.1 1532.7,792.0 1540.3,806.4 1547.8,820.1 1555.4,833.6 1563.0,845.8 1570.6,857.9 1578.2,869.6 1585.8,880.0 1593.4,890.0 1600.9,898.9 1608.5,907.9 1616.1,915.0 1623.7,922.5 1631.3,928.3 1638.9,934.8 1646.4,939.2 1654.0,944.3 1661.6,947.5 1669.2,951.2 1676.8,954.5 1684.4,956.3 1692.0,958.5"/>
</g>
<polyline stroke="#f00" stroke-dasharray="49.85 21.55" points="1001.3,41.4 1004.4,41.1 1007.6,40.9 1010.7,40.7 1013.8,40.5 1017.0,40.4 1020.1,40.3 1023.2,40.3 1026.4,40.3 1029.5,40.3 1032.6,40.4 1035.8,40.5 1038.9,40.6 1042.0,40.8 1045.2,41.0 1048.3,41.2 1051.4,41.5 1054.5,41.8 1057.7,42.1 1060.8,42.4 1063.9,42.8 1067.0,43.2 1070.1,43.7 1073.2,44.1 1076.3,44.6 1079.4,45.1 1082.5,45.7 1085.5,46.2 1088.6,46.7 1091.7,47.2 1094.8,47.8 1097.9,48.3 1101.0,48.8 1104.1,49.2 1107.2,49.7 1110.3,50.1 1113.4,50.7 1116.5,51.2 1119.5,51.8 1122.6,52.5 1125.6,53.3 1128.6,54.1 1131.6,55.0 1134.6,55.9 1137.6,56.9 1140.6,57.9 1143.6,58.9 1146.6,59.9 1149.5,61.0 1152.5,62.0 1155.5,63.1 1158.4,64.2 1161.3,65.3 1164.3,66.4 1167.2,67.6 1170.1,68.8 1172.9,70.1 1175.8,71.4 1178.6,72.7 1181.4,74.1 1184.2,75.6 1186.9,77.1 1189.6,78.6 1192.3,80.3 1194.9,81.9 1197.6,83.6 1200.2,85.4 1202.8,87.1 1205.4,88.9 1208.0,90.6 1210.6,92.4 1213.2,94.2 1215.8,96.0 1218.3,97.8 1220.9,99.6 1223.4,101.4 1226.0,103.3 1228.5,105.1 1231.0,107.0 1233.5,109.0 1235.9,110.9 1238.3,112.9 1240.7,114.9 1243.1,117.0 1245.4,119.1 1247.7,121.2 1249.9,123.4 1252.2,125.6 1254.3,127.8 1256.5,130.1 1258.6,132.4 1260.7,134.8 1262.7,137.2 1264.7,139.6 1266.7,142.0 1268.6,144.5 1270.5,147.0 1272.4,149.5 1274.3,152.0 1276.1,154.5 1278.0,157.1 1279.8,159.6 1281.6,162.2 1283.4,164.8 1285.1,167.3 1286.9,169.9 1288.7,172.5 1290.5,175.1 1292.3,177.7 1294.1,180.2 1295.8,182.8 1297.6,185.4 1299.3,188.1 1301.0,190.7 1302.6,193.4 1304.2,196.0 1305.8,198.7 1307.3,201.5 1308.9,204.2 1310.3,207.0 1311.8,209.8 1313.2,212.6 1314.6,215.4 1316.0,218.2 1317.3,221.0 1318.6,223.9 1320.0,226.7 1321.3,229.6 1322.6,232.4 1323.9,235.3 1325.1,238.1 1326.4,241.0 1327.7,243.9 1328.9,246.7 1330.2,249.6 1331.5,252.5 1332.7,255.3 1333.9,258.2 1335.2,261.1 1336.4,264.0 1337.6,266.9 1338.8,269.8 1340.0,272.6 1341.2,275.5 1342.4,278.4 1343.6,281.3 1344.8,284.2 1346.0,287.1 1347.2,290.0 1348.4,292.9 1349.6,295.8 1350.8,298.7 1352.0,301.6 1353.2,304.5 1354.4,307.4 1355.6,310.3 1356.7,313.2 1357.9,316.1 1359.1,319.0 1360.2,321.9 1361.3,324.9 1362.4,327.8 1363.5,330.7 1364.6,333.7 1365.6,336.6 1366.7,339.6 1367.7,342.5 1368.8,345.5 1369.8,348.4 1370.8,351.4 1371.8,354.4 1372.9,357.3 1373.9,360.3 1375.0,363.2 1376.1,366.2 1377.2,369.1 1378.3,372.0 1379.4,375.0 1380.5,377.9 1381.6,380.8 1382.8,383.7 1383.9,386.7 1385.0,389.6 1386.0,392.5 1387.1,395.5 1388.2,398.4 1389.2,401.4 1390.2,404.3 1391.2,407.3 1392.2,410.3 1393.2,413.2 1394.2,416.2 1395.2,419.2 1396.2,422.2 1397.3,425.1 1398.3,428.1 1399.3,431.0 1400.3,434.0 1401.3,437.0 1402.4,439.9 1403.5,442.9 1404.5,445.8 1405.6,448.8 1406.6,451.7 1407.7,454.7 1408.7,457.6 1409.7,460.6 1410.7,463.5 1411.7,466.5 1412.7,469.5 1413.7,472.5 1414.6,475.5 1415.6,478.4 1416.5,481.4 1417.5,484.4 1418.4,487.4 1419.4,490.4 1420.3,493.4 1421.2,496.4 1422.2,499.4 1423.1,502.3 1424.1,505.3 1425.0,508.3 1426.0,511.3 1427.0,514.3 1427.9,517.3 1428.9,520.2 1429.8,523.2 1430.8,526.2 1431.7,529.2 1432.6,532.2 1433.5,535.2 1434.4,538.2 1435.3,541.2 1436.2,544.2 1437.1,547.2 1438.1,550.2 1439.0,553.2 1440.0,556.2 1441.0,559.1 1442.0,562.1 1443.0,565.1 1444.1,568.0 1445.2,570.9 1446.3,573.9 1447.5,576.8 1448.7,579.7 1449.9,582.6 1451.1,585.5 1452.2,588.4 1453.4,591.3 1454.5,594.2 1455.5,597.2 1456.5,600.1 1457.5,603.1 1458.4,606.1 1459.4,609.1 1460.3,612.1 1461.2,615.1 1462.0,618.1 1462.9,621.1 1463.8,624.1 1464.8,627.1 1465.7,630.1 1466.6,633.1 1467.6,636.1 1468.6,639.0 1469.7,642.0 1470.8,644.9 1471.9,647.8 1473.0,650.7 1474.2,653.7 1475.3,656.6 1476.4,659.5 1477.5,662.4 1478.6,665.4 1479.7,668.3 1480.8,671.3 1481.8,674.2 1482.8,677.2 1483.9,680.1 1484.9,683.1 1485.9,686.1 1487.0,689.0 1488.0,692.0 1489.0,694.9 1490.1,697.9 1491.2,700.8 1492.3,703.7 1493.4,706.7 1494.6,709.6 1495.7,712.5 1496.9,715.4 1498.1,718.3 1499.3,721.2 1500.5,724.1 1501.7,727.0 1502.9,729.8 1504.1,732.7 1505.4,735.6 1506.6,738.5 1507.8,741.4 1509.0,744.3 1510.2,747.2 1511.4,750.1 1512.5,753.0 1513.7,755.9 1514.9,758.8 1516.1,761.7 1517.3,764.6 1518.4,767.5 1519.6,770.4 1520.7,773.3 1521.9,776.3 1523.0,779.2 1524.2,782.1 1525.4,785.0 1526.6,787.9 1527.8,790.8 1529.1,793.6 1530.4,796.5 1531.7,799.3 1533.1,802.1 1534.5,804.9 1536.0,807.6 1537.5,810.4 1539.0,813.2 1540.5,815.9 1542.0,818.7 1543.5,821.4 1545.0,824.1 1546.5,826.9 1548.0,829.6 1549.5,832.4 1551.0,835.2 1552.4,838.0 1553.9,840.8 1555.3,843.6 1556.7,846.3 1558.1,849.1 1559.6,851.9 1561.0,854.7 1562.5,857.4 1564.1,860.2 1565.6,862.9 1567.3,865.5 1568.9,868.2 1570.6,870.9 1572.3,873.5 1574.0,876.1 1575.8,878.7 1577.5,881.3 1579.3,883.9 1581.1,886.4 1583.0,889.0 1584.8,891.5 1586.6,894.1 1588.5,896.6 1590.4,899.1 1592.2,901.6 1594.1,904.1 1596.0,906.6 1597.9,909.1 1599.9,911.5 1601.9,914.0 1603.9,916.4 1605.9,918.8 1608.0,921.1 1610.1,923.5 1612.3,925.8 1614.4,928.1 1616.7,930.3 1618.9,932.5 1621.2,934.7 1623.6,936.8 1626.0,938.8 1628.4,940.8 1630.8,942.7 1633.4,944.6 1635.9,946.4 1638.5,948.1 1641.2,949.8 1643.9,951.4 1646.6,952.9 1649.3,954.5 1652.1,956.0 1654.8,957.5 1657.5,959.1 1660.2,960.7 1662.9,962.3 1665.5,964.0 1668.2,965.7 1670.8,967.4 1673.4,969.1 1676.1,970.8 1678.8,972.4 1681.5,973.9 1684.3,975.4 1687.1,976.7 1690.0,978.0"/>
</g>
<g fill="none" stroke="#000" stroke-width="4.0" stroke-linecap="butt">
<rect x="169.0" y="18.8" width="681.9" height="976.3" stroke-linejoin="miter"/>
<rect x="986.6" y="18.8" width="682.6" height="976.3" stroke-linejoin="miter"/>
<line x1="153.8" y1="995.1" x2="169.0" y2="995.1"/><line x1="153.8" y1="799.8" x2="169.0" y2="799.8"/><line x1="153.8" y1="604.6" x2="169.0" y2="604.6"/><line x1="153.8" y1="409.3" x2="169.0" y2="409.3"/><line x1="153.8" y1="214.1" x2="169.0" y2="214.1"/><line x1="153.8" y1="18.8" x2="169.0" y2="18.8"/><line x1="244.8" y1="995.1" x2="244.8" y2="1010.1"/><line x1="396.3" y1="995.1" x2="396.3" y2="1010.1"/><line x1="547.8" y1="995.1" x2="547.8" y2="1010.1"/><line x1="699.4" y1="995.1" x2="699.4" y2="1010.1"/><line x1="850.9" y1="995.1" x2="850.9" y2="1010.1"/>
<line x1="971.4" y1="995.1" x2="986.6" y2="995.1"/><line x1="971.4" y1="799.8" x2="986.6" y2="799.8"/><line x1="971.4" y1="604.6" x2="986.6" y2="604.6"/><line x1="971.4" y1="409.3" x2="986.6" y2="409.3"/><line x1="971.4" y1="214.1" x2="986.6" y2="214.1"/><line x1="971.4" y1="18.8" x2="986.6" y2="18.8"/><line x1="1062.4" y1="995.1" x2="1062.4" y2="1010.1"/><line x1="1214.1" y1="995.1" x2="1214.1" y2="1010.1"/><line x1="1365.8" y1="995.1" x2="1365.8" y2="1010.1"/><line x1="1517.5" y1="995.1" x2="1517.5" y2="1010.1"/><line x1="1669.2" y1="995.1" x2="1669.2" y2="1010.1"/>
</g>
<g font-family="'DejaVu Sans', 'Liberation Sans', sans-serif" font-size="45" fill="#000">
<text transform="translate(135.5,1011.7) scale(1,1.045)" font-size="44.6" text-anchor="end">0.0</text>
<text transform="translate(135.5,816.4) scale(1,1.045)" font-size="44.6" text-anchor="end">0.2</text>
<text transform="translate(135.5,621.2) scale(1,1.045)" font-size="44.6" text-anchor="end">0.4</text>
<text transform="translate(135.5,425.9) scale(1,1.045)" font-size="44.6" text-anchor="end">0.6</text>
<text transform="translate(135.5,230.7) scale(1,1.045)" font-size="44.6" text-anchor="end">0.8</text>
<text transform="translate(135.5,35.4) scale(1,1.045)" font-size="44.6" text-anchor="end">1.0</text>

<text transform="translate(955.0,1011.7) scale(1,1.045)" font-size="44.6" text-anchor="end">0.0</text>
<text transform="translate(955.0,816.4) scale(1,1.045)" font-size="44.6" text-anchor="end">0.2</text>
<text transform="translate(955.0,621.2) scale(1,1.045)" font-size="44.6" text-anchor="end">0.4</text>
<text transform="translate(955.0,425.9) scale(1,1.045)" font-size="44.6" text-anchor="end">0.6</text>
<text transform="translate(955.0,230.7) scale(1,1.045)" font-size="44.6" text-anchor="end">0.8</text>
<text transform="translate(955.0,35.4) scale(1,1.045)" font-size="44.6" text-anchor="end">1.0</text>

<text transform="translate(244.8,1061.7) scale(1,1.05)" font-size="44.5" text-anchor="middle">16</text>
<text transform="translate(396.3,1061.7) scale(1,1.05)" font-size="44.5" text-anchor="middle">18</text>
<text transform="translate(547.8,1061.7) scale(1,1.05)" font-size="44.5" text-anchor="middle">20</text>
<text transform="translate(699.4,1061.7) scale(1,1.05)" font-size="44.5" text-anchor="middle">22</text>
<text transform="translate(850.9,1061.7) scale(1,1.05)" font-size="44.5" text-anchor="middle">24</text>

<text transform="translate(1062.4,1061.7) scale(1,1.05)" font-size="44.5" text-anchor="middle">16</text>
<text transform="translate(1214.1,1061.7) scale(1,1.05)" font-size="44.5" text-anchor="middle">18</text>
<text transform="translate(1365.8,1061.7) scale(1,1.05)" font-size="44.5" text-anchor="middle">20</text>
<text transform="translate(1517.5,1061.7) scale(1,1.05)" font-size="44.5" text-anchor="middle">22</text>
<text transform="translate(1669.2,1061.7) scale(1,1.05)" font-size="44.5" text-anchor="middle">24</text>

<text x="509.9" y="1122" text-anchor="middle">Absolute Magnitude Limit [H]</text>
<text x="1327.9" y="1122" text-anchor="middle">Absolute Magnitude Limit [H]</text>
<text transform="translate(34.3,508.4) rotate(-90)" text-anchor="middle">Completeness C(H&lt;)</text>
</g>
<g font-family="'DejaVu Sans', 'Liberation Sans', sans-serif" font-size="37.5" letter-spacing="-0.95" fill="#000" stroke="#fff" stroke-width="0.7" paint-order="fill">
<text x="243.5" y="897.6">Cumulative Completeness</text>
<text x="1061.5" y="897.6">Differential Completeness</text>
<text x="1061.5" y="945.2">0.5 mag bins</text>
</g>
</svg>
</body></html>
